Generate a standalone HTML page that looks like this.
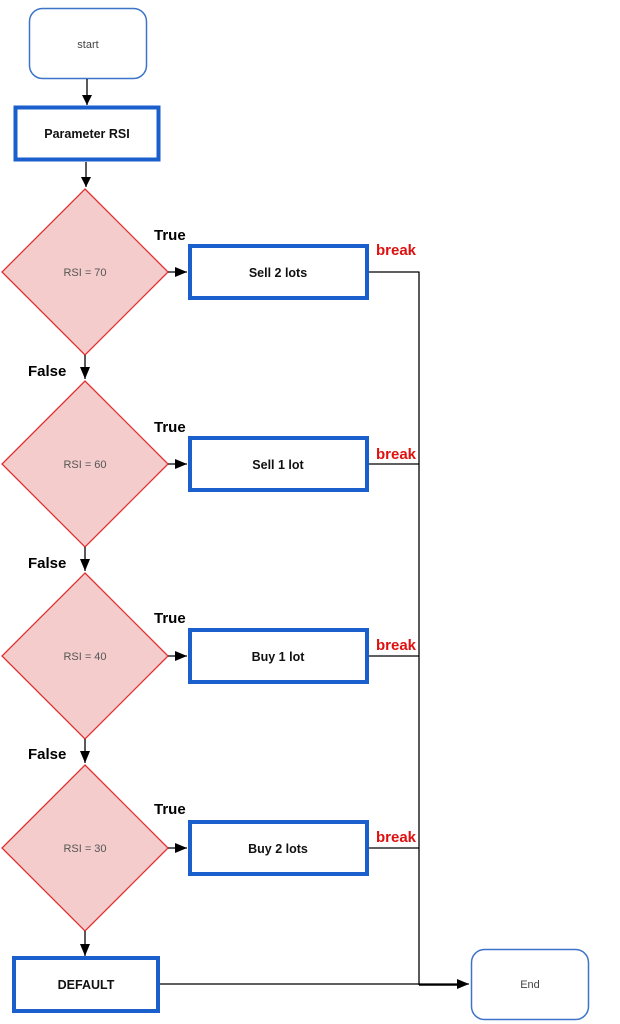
<!DOCTYPE html>
<html><head><meta charset="utf-8"><style>
html,body{margin:0;padding:0;background:#fff;width:620px;height:1024px;overflow:hidden}
svg{display:block}
text{font-family:"Liberation Sans",Arial,sans-serif}
</style></head><body>
<svg width="620" height="1024" viewBox="0 0 620 1024" xmlns="http://www.w3.org/2000/svg">
<defs>
<marker id="a" viewBox="0 0 10 10" refX="10" refY="5" markerWidth="10" markerHeight="10" markerUnits="userSpaceOnUse" orient="auto"><path d="M0,0 L10,5 L0,10 z" fill="#000"/></marker>
<marker id="b" viewBox="0 0 12 10" refX="12" refY="5" markerWidth="12" markerHeight="12" markerUnits="userSpaceOnUse" orient="auto"><path d="M0,0 L12,5 L0,10 z" fill="#000"/></marker>
</defs>
<!-- start -->
<rect x="29.5" y="8.5" width="117" height="70" rx="13" fill="#fff" stroke="#3d73c9" stroke-width="1.5"/>
<text x="88" y="48" font-size="11" fill="#444" text-anchor="middle">start</text>
<line x1="87" y1="79" x2="87" y2="105" stroke="#000" stroke-width="1.3" marker-end="url(#a)"/>
<!-- parameter -->
<rect x="15.5" y="107.5" width="143" height="52" fill="#fff" stroke="#1a5fcc" stroke-width="4"/>
<text x="87" y="138" font-size="12.5" font-weight="bold" text-anchor="middle" fill="#111">Parameter RSI</text>
<line x1="86" y1="162" x2="86" y2="187" stroke="#000" stroke-width="1.3" marker-end="url(#a)"/>

<g id="rows">
</g>
<!-- row template repeated -->
<g>
<polygon points="85,189 168,272 85,355 2,272" fill="#f5cccc" stroke="#e03030" stroke-width="1.3"/>
<text x="85" y="276" font-size="11" fill="#555" text-anchor="middle">RSI = 70</text>
<line x1="168" y1="272" x2="187" y2="272" stroke="#000" stroke-width="1.3" marker-end="url(#b)"/>
<rect x="190" y="246" width="177" height="52" fill="#fff" stroke="#1a5fcc" stroke-width="4"/>
<text x="278" y="277" font-size="12.5" font-weight="bold" text-anchor="middle" fill="#111">Sell 2 lots</text>
<text x="154" y="240" font-size="15" font-weight="bold" fill="#000">True</text>
<text x="376" y="255" font-size="15" font-weight="bold" fill="#e01010">break</text>
<line x1="369" y1="272" x2="419" y2="272" stroke="#000" stroke-width="1.3"/>
<text x="28" y="376" font-size="15" font-weight="bold" fill="#000">False</text>
<line x1="85" y1="355" x2="85" y2="379" stroke="#000" stroke-width="1.3" marker-end="url(#b)"/>
</g>
<g>
<polygon points="85,381 168,464 85,547 2,464" fill="#f5cccc" stroke="#e03030" stroke-width="1.3"/>
<text x="85" y="468" font-size="11" fill="#555" text-anchor="middle">RSI = 60</text>
<line x1="168" y1="464" x2="187" y2="464" stroke="#000" stroke-width="1.3" marker-end="url(#b)"/>
<rect x="190" y="438" width="177" height="52" fill="#fff" stroke="#1a5fcc" stroke-width="4"/>
<text x="278" y="469" font-size="12.5" font-weight="bold" text-anchor="middle" fill="#111">Sell 1 lot</text>
<text x="154" y="432" font-size="15" font-weight="bold" fill="#000">True</text>
<text x="376" y="459" font-size="15" font-weight="bold" fill="#e01010">break</text>
<line x1="369" y1="464" x2="419" y2="464" stroke="#000" stroke-width="1.3"/>
<text x="28" y="568" font-size="15" font-weight="bold" fill="#000">False</text>
<line x1="85" y1="547" x2="85" y2="571" stroke="#000" stroke-width="1.3" marker-end="url(#b)"/>
</g>
<g>
<polygon points="85,573 168,656 85,739 2,656" fill="#f5cccc" stroke="#e03030" stroke-width="1.3"/>
<text x="85" y="660" font-size="11" fill="#555" text-anchor="middle">RSI = 40</text>
<line x1="168" y1="656" x2="187" y2="656" stroke="#000" stroke-width="1.3" marker-end="url(#b)"/>
<rect x="190" y="630" width="177" height="52" fill="#fff" stroke="#1a5fcc" stroke-width="4"/>
<text x="278" y="661" font-size="12.5" font-weight="bold" text-anchor="middle" fill="#111">Buy 1 lot</text>
<text x="154" y="623" font-size="15" font-weight="bold" fill="#000">True</text>
<text x="376" y="650" font-size="15" font-weight="bold" fill="#e01010">break</text>
<line x1="369" y1="656" x2="419" y2="656" stroke="#000" stroke-width="1.3"/>
<text x="28" y="759" font-size="15" font-weight="bold" fill="#000">False</text>
<line x1="85" y1="739" x2="85" y2="763" stroke="#000" stroke-width="1.3" marker-end="url(#b)"/>
</g>
<g>
<polygon points="85,765 168,848 85,931 2,848" fill="#f5cccc" stroke="#e03030" stroke-width="1.3"/>
<text x="85" y="852" font-size="11" fill="#555" text-anchor="middle">RSI = 30</text>
<line x1="168" y1="848" x2="187" y2="848" stroke="#000" stroke-width="1.3" marker-end="url(#b)"/>
<rect x="190" y="822" width="177" height="52" fill="#fff" stroke="#1a5fcc" stroke-width="4"/>
<text x="278" y="853" font-size="12.5" font-weight="bold" text-anchor="middle" fill="#111">Buy 2 lots</text>
<text x="154" y="814" font-size="15" font-weight="bold" fill="#000">True</text>
<text x="376" y="842" font-size="15" font-weight="bold" fill="#e01010">break</text>
<line x1="369" y1="848" x2="419" y2="848" stroke="#000" stroke-width="1.3"/>
<line x1="85" y1="931" x2="85" y2="956" stroke="#000" stroke-width="1.3" marker-end="url(#b)"/>
</g>
<!-- vertical collector -->
<line x1="419" y1="271.5" x2="419" y2="985" stroke="#000" stroke-width="1.3"/>
<!-- default -->
<rect x="14" y="958" width="144" height="53" fill="#fff" stroke="#1a5fcc" stroke-width="4"/>
<text x="86" y="989" font-size="12.5" font-weight="bold" text-anchor="middle" fill="#111">DEFAULT</text>
<line x1="160" y1="984" x2="469" y2="984" stroke="#000" stroke-width="1.3" marker-end="url(#b)"/>
<line x1="419" y1="985" x2="460" y2="985" stroke="#000" stroke-width="1.5"/>
<!-- end -->
<rect x="471.5" y="949.5" width="117" height="70" rx="13" fill="#fff" stroke="#3d73c9" stroke-width="1.5"/>
<text x="530" y="988" font-size="11" fill="#444" text-anchor="middle">End</text>
</svg>
</body></html>
